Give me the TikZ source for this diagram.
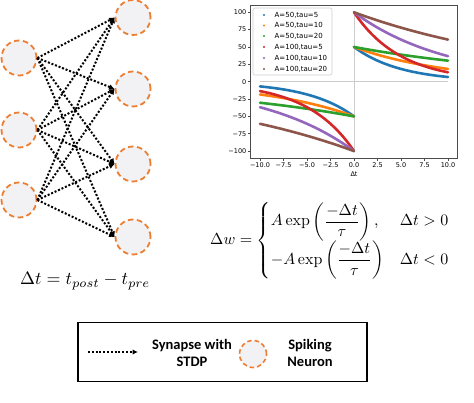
\documentclass[tikz,border=0pt]{standalone}
\usepackage{amsmath}
\usepackage{graphicx}
\usepackage{fontspec}
\usetikzlibrary{arrows.meta}
\newfontfamily\mplfont{DejaVu Sans}
\newfontfamily\calfont{Carlito}
\definecolor{neuronorange}{RGB}{237,125,49}
\definecolor{neuronfill}{RGB}{242,242,244}
\definecolor{mplblue}{HTML}{1F77B4}
\definecolor{mplorange}{HTML}{FF7F0E}
\definecolor{mplgreen}{HTML}{2CA02C}
\definecolor{mplred}{HTML}{D62728}
\definecolor{mplpurple}{HTML}{9467BD}
\definecolor{mplbrown}{HTML}{8C564B}
\begin{document}
\begin{tikzpicture}[x=1pt,y=-1pt,
  neuron/.style={circle, draw=neuronorange, fill=neuronfill, line width=1.8pt,
    dash pattern=on 5.5pt off 3.5pt, minimum size=35pt, inner sep=0pt},
  synapse/.style={line width=2pt, dash pattern=on 2pt off 1.8pt,
    -{Latex[length=5.5pt,width=5.5pt]}},
  curve/.style={line width=2.6pt, line cap=round},
  zeroline/.style={line width=0.6pt, black!20},
  axisline/.style={line width=0.7pt, black!70},
  ticklabel/.style={font=\mplfont\fontsize{6.5}{7}\selectfont, inner sep=0pt},
  legendlabel/.style={font=\mplfont\fontsize{7}{8}\selectfont, inner sep=0pt, anchor=west},
  legendtext/.style={font=\calfont\bfseries\fontsize{14.5}{16.7}\selectfont, align=center, inner sep=0pt}]
\useasboundingbox (0,0) rectangle (474,403);

% ---------- network ----------
\node[neuron] (i1) at (19,58) {};
\node[neuron] (i2) at (19,130) {};
\node[neuron] (i3) at (19,200) {};
\node[neuron] (o1) at (133,17.5) {};
\node[neuron] (o2) at (133,89) {};
\node[neuron] (o3) at (133,164) {};
\node[neuron] (o4) at (133,237) {};
\foreach \i in {1,2,3} {
  \foreach \o in {1,2,3,4} {
    \draw[synapse] (i\i.east) -- (o\o.west);
  }
}

\node[anchor=base west, inner sep=0pt] (dt) at (20,285)
  {\resizebox{130pt}{!}{$\Delta t = t_{post} - t_{pre}$}};

% ---------- plot ----------
\begin{scope}[shift={(354,81.7)}, x=9.4pt, y=0.694pt]
  \draw[zeroline] (-10,0) -- (10,0);
  \draw[zeroline] (0,-100) -- (0,100);
  \draw[curve, mplblue]   plot[domain=0:10, samples=60] (\x, {50*exp(-\x/5)});
  \draw[curve, mplblue]   plot[domain=-10:0, samples=60] (\x, {-50*exp(\x/5)});
  \draw[curve, mplorange] plot[domain=0:10, samples=60] (\x, {50*exp(-\x/10)});
  \draw[curve, mplorange] plot[domain=-10:0, samples=60] (\x, {-50*exp(\x/10)});
  \draw[curve, mplgreen]  plot[domain=0:10, samples=60] (\x, {50*exp(-\x/20)});
  \draw[curve, mplgreen]  plot[domain=-10:0, samples=60] (\x, {-50*exp(\x/20)});
  \draw[curve, mplred]    plot[domain=0:10, samples=60] (\x, {100*exp(-\x/5)});
  \draw[curve, mplred]    plot[domain=-10:0, samples=60] (\x, {-100*exp(\x/5)});
  \draw[curve, mplpurple] plot[domain=0:10, samples=60] (\x, {100*exp(-\x/10)});
  \draw[curve, mplpurple] plot[domain=-10:0, samples=60] (\x, {-100*exp(\x/10)});
  \draw[curve, mplbrown]  plot[domain=0:10, samples=60] (\x, {100*exp(-\x/20)});
  \draw[curve, mplbrown]  plot[domain=-10:0, samples=60] (\x, {-100*exp(\x/20)});
\end{scope}

\draw[axisline] (250.6,5.4) rectangle (457.4,158);
\foreach \v/\lab in {100/100,75/75,50/50,25/25,0/0,-25/−25,-50/−50,-75/−75,-100/−100} {
  \draw[axisline] (250.6,{81.7-0.694*(\v)}) -- ++(-3,0);
  \node[ticklabel, anchor=east] at (246.5,{81.7-0.694*(\v)}) {\lab};
}
\foreach \d/\lab in {-10/−10.0,-7.5/−7.5,-5/−5.0,-2.5/−2.5,0/0.0,2.5/2.5,5/5.0,7.5/7.5,10/10.0} {
  \draw[axisline] ({354+9.4*(\d)},158) -- ++(0,3);
  \node[ticklabel, anchor=north] at ({354+9.4*(\d)},162.5) {\lab};
}
\node[ticklabel] (xl) at (354,174.5) {Δt};

\draw[rounded corners=2pt, fill=white, draw=black!20, line width=0.6pt] (253,8) rectangle (332,75);
\foreach \c/\lab/\yy in {mplblue/{A=50,tau=5}/15, mplorange/{A=50,tau=10}/25.5,
    mplgreen/{A=50,tau=20}/36, mplred/{A=100,tau=5}/47, mplpurple/{A=100,tau=10}/58,
    mplbrown/{A=100,tau=20}/69} {
  \fill[\c] (264,\yy) circle (1.1);
  \node[legendlabel] at (274.5,\yy) {\lab};
}

% ---------- equation ----------
\node[anchor=west, inner sep=0pt] (eq) at (210,241)
  {\resizebox{240pt}{!}{$\Delta w = \begin{cases}
     A\exp\left(\dfrac{-\Delta t}{\tau}\right), & \Delta t>0\\[2pt]
     -A\exp\left(\dfrac{-\Delta t}{\tau}\right) & \Delta t<0
   \end{cases}$}};

% ---------- legend box ----------
\node[draw, line width=1.4pt, minimum width=289pt, minimum height=59pt, inner sep=0pt] (key) at (222.5,352) {};
\coordinate (ka) at (88,352);
\coordinate (kb) at (138,352);
\draw[synapse] (ka) -- (kb);
\node[legendtext] (syn) at (192,353) {Synapse with\\STDP};
\node[neuron, minimum size=27pt, line width=1.6pt, dash pattern=on 4.5pt off 3pt] (kn) at (253,354) {};
\node[legendtext] (spk) at (310,353) {Spiking\\Neuron};
\end{tikzpicture}
\end{document}
